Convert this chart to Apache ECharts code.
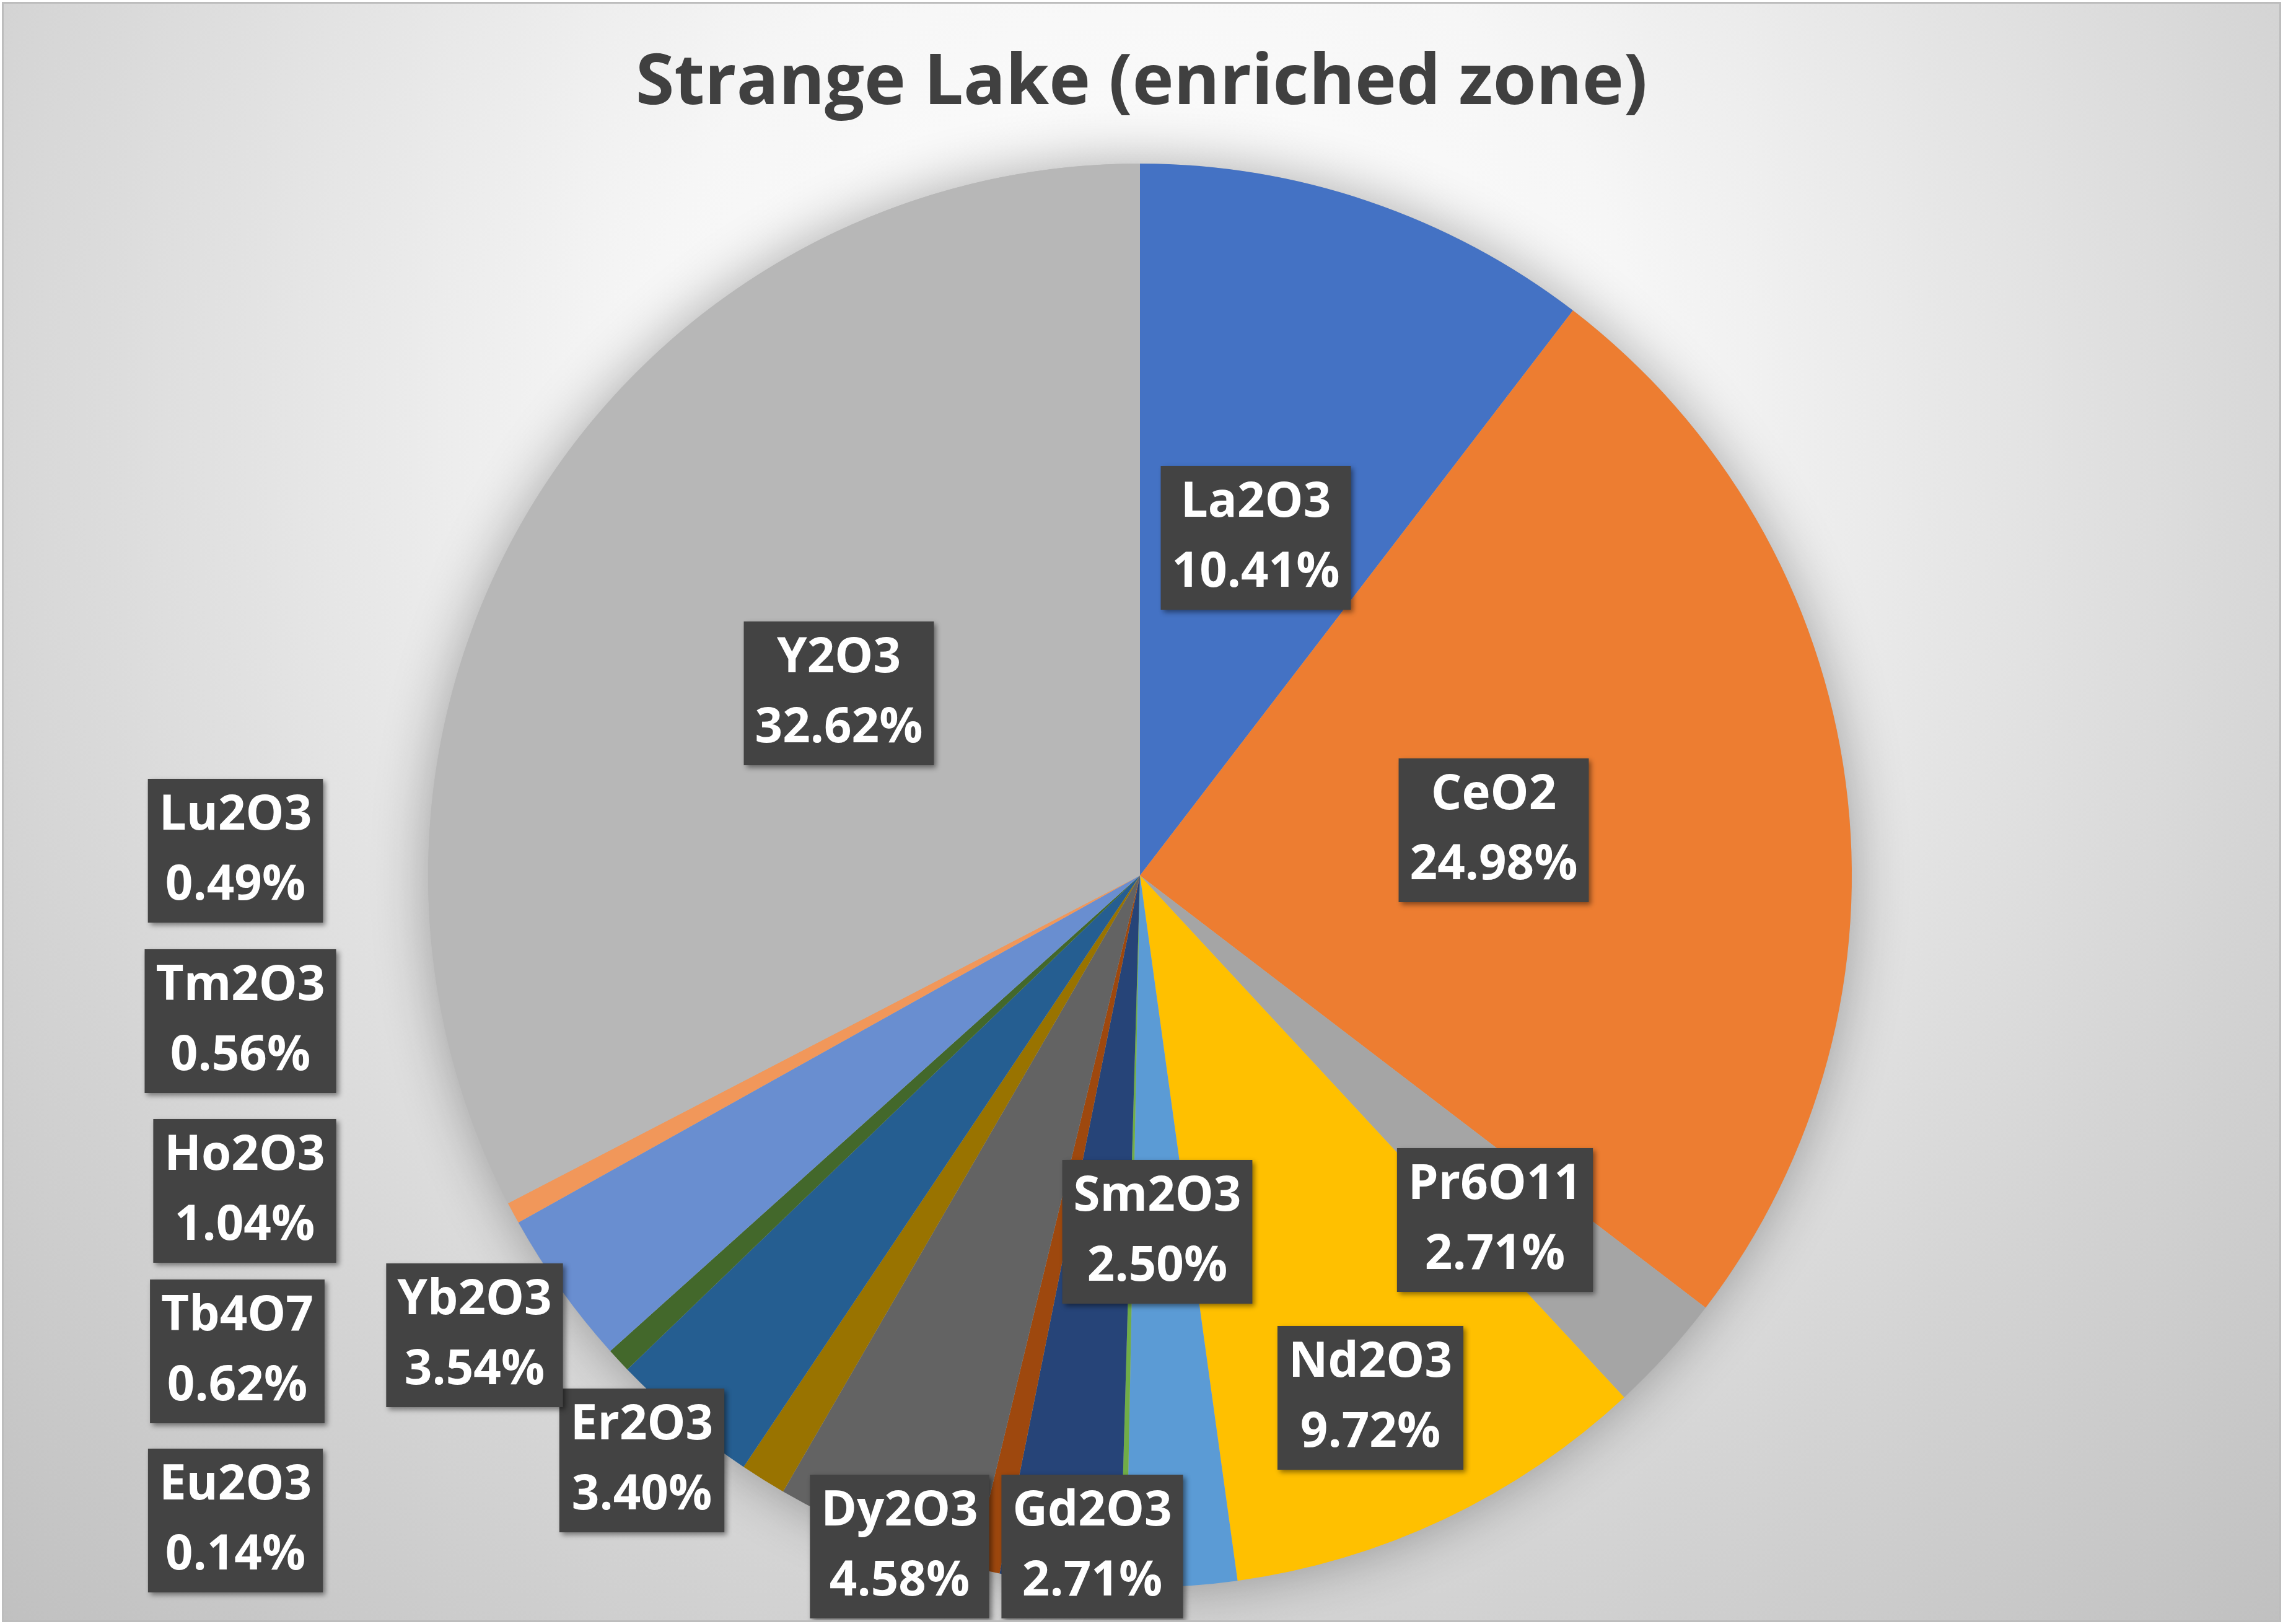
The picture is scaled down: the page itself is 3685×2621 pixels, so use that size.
<!DOCTYPE html>
<html>
<head>
<meta charset="utf-8">
<script src="https://cdn.jsdelivr.net/npm/echarts@6/dist/echarts.min.js"></script>
<style>
  html, body { margin: 0; padding: 0; background: #ffffff; }
  #chart { position: absolute; left: 0; top: 0; width: 3685px; height: 2621px; }
  #frame { position: absolute; left: 0; top: 0; width: 3685px; height: 2621px; box-sizing: border-box; border: 3px solid #ffffff; pointer-events: none; }
  #frame > div { width: 100%; height: 100%; box-sizing: border-box; border: 3px solid #bdbdbd; }
</style>
</head>
<body>
<div id="chart"></div>
<div id="frame"><div></div></div>
<script>
// ---- data ----
const titleText = 'Strange Lake (enriched zone)';
const categories = ['La2O3', 'CeO2', 'Pr6O11', 'Nd2O3', 'Sm2O3', 'Eu2O3', 'Gd2O3', 'Tb4O7', 'Dy2O3', 'Ho2O3', 'Er2O3', 'Tm2O3', 'Yb2O3', 'Lu2O3', 'Y2O3'];
const percents = [10.41, 24.98, 2.71, 9.72, 2.50, 0.14, 2.71, 0.62, 4.58, 1.04, 3.40, 0.56, 3.54, 0.49, 32.62];

// ---- styling ----
const colors = ['#4472C4', '#ED7D31', '#A5A5A5', '#FFC000', '#5B9BD5', '#70AD47', '#264478', '#9E480E', '#636363', '#997300', '#255E91', '#43682B', '#698ED0', '#F1975A', '#B7B7B7'];
// label box centres (page pixels), as placed in the reference
const labelPos = {
  La2O3: [2027, 868], CeO2: [2411, 1340], Pr6O11: [2413, 1969], Nd2O3: [2212, 2256],
  Sm2O3: [1868, 1988], Eu2O3: [380, 2454], Gd2O3: [1763, 2496], Tb4O7: [383, 2181],
  Dy2O3: [1452, 2496], Ho2O3: [395, 1922], Er2O3: [1036, 2357], Tm2O3: [388, 1648],
  Yb2O3: [766, 2155], Lu2O3: [380, 1373], Y2O3: [1354, 1119]
};

const pieCenter = [1840, 1413];
const pieRadius = 1149;
const total = percents.reduce((a, b) => a + b, 0);

const chart = echarts.init(document.getElementById('chart'), null, { renderer: 'canvas' });
chart.setOption({
  animation: false,
  backgroundColor: {
    type: 'radial', x: 0.5, y: 0.25, r: 1.03,
    colorStops: [
      { offset: 0, color: '#ffffff' },
      { offset: 0.3, color: '#f6f6f6' },
      { offset: 0.72, color: '#d4d4d4' },
      { offset: 1, color: '#c0c0c0' }
    ]
  },
  title: {
    text: titleText,
    left: 'center',
    top: 74,
    textStyle: { fontFamily: 'Open Sans', fontWeight: 'bold', fontSize: 113, color: '#404040' }
  },
  series: [
    {
      type: 'pie',
      silent: true,
      center: pieCenter,
      radius: pieRadius,
      startAngle: 90,
      label: { show: false },
      labelLine: { show: false },
      itemStyle: { color: '#b7b7b7', shadowBlur: 90, shadowColor: 'rgba(0,0,0,0.32)' },
      data: [{ name: '', value: total }],
      z: 1
    },
    {
      type: 'pie',
      center: pieCenter,
      radius: pieRadius,
      startAngle: 90,
      clockwise: true,
      avoidLabelOverlap: false,
      minAngle: 0,
      itemStyle: { borderWidth: 0 },
      labelLine: { show: false },
      label: {
        show: true,
        formatter: p => p.name + '\n' + p.value.toFixed(2) + '%',
        fontFamily: 'Open Sans',
        fontWeight: 'bold',
        fontSize: 78,
        lineHeight: 113,
        color: '#ffffff',
        backgroundColor: '#434343',
        padding: [4, 18, 2, 18],
        shadowColor: 'rgba(0,0,0,0.45)',
        shadowBlur: 8,
        shadowOffsetX: 4,
        shadowOffsetY: 4,
        align: 'center',
        verticalAlign: 'middle'
      },
      labelLayout: function (params) {
        const p = labelPos[categories[params.dataIndex]];
        return { x: p[0], y: p[1], align: 'center', verticalAlign: 'middle', hideOverlap: false };
      },
      data: categories.map((c, i) => ({ name: c, value: percents[i], itemStyle: { color: colors[i] } })),
      z: 2
    }
  ]
});
</script>
</body>
</html>
